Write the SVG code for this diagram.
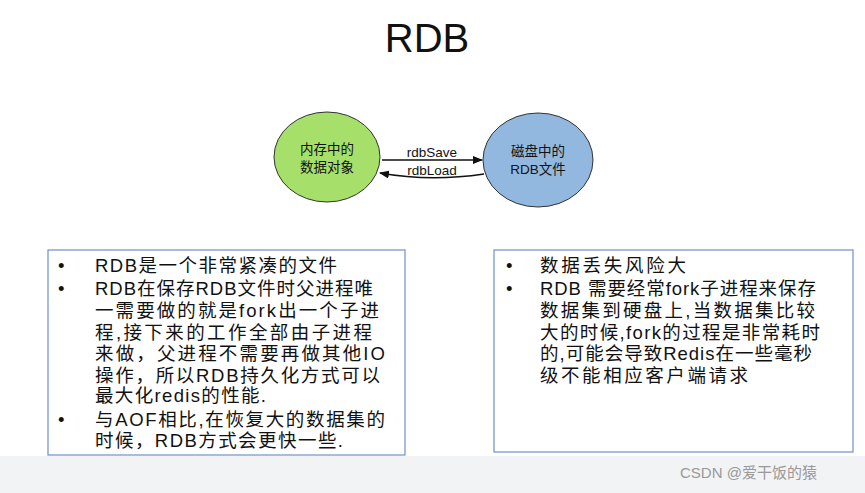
<svg xmlns="http://www.w3.org/2000/svg" width="865" height="493" viewBox="0 0 865 493">
<style>
text{font-family:"Liberation Sans","Noto Sans CJK SC",sans-serif;fill:#111}
.t{font-size:18.5px}
.n{font-size:13.5px}
.box{fill:#fff;stroke:#6f8fc8;stroke-width:1.2}
.c{stroke:#111;stroke-width:1.6;fill:none}
</style>
<defs><marker id="a" markerWidth="10" markerHeight="8" refX="9" refY="4" orient="auto" markerUnits="userSpaceOnUse"><path d="M0,0L10,4L0,8z" fill="#111"/></marker></defs>
<rect width="865" height="493" fill="#fff"/>
<rect y="456" width="865" height="37" fill="#f2f3f5"/>
<text x="427" y="52" font-size="40" text-anchor="middle">RDB</text>
<g id="mem"><ellipse cx="327" cy="157" rx="53" ry="45" fill="#a6e06b" stroke="#333"/><text class="n" x="327" y="154" text-anchor="middle">内存中的</text><text class="n" x="327" y="172" text-anchor="middle">数据对象</text></g>
<g id="disk"><ellipse cx="538" cy="160" rx="55" ry="47" fill="#92b8e0" stroke="#333"/><text class="n" x="538" y="156" text-anchor="middle">磁盘中的</text><text class="n" x="538" y="174" text-anchor="middle">RDB文件</text></g>
<g id="edges">
<path class="c" d="M382,160L482,160" marker-end="url(#a)"/>
<path class="c" d="M484,174Q430,182 380,173" marker-end="url(#a)"/>
<text class="n" x="432" y="157" text-anchor="middle">rdbSave</text>
<text class="n" x="432" y="175" text-anchor="middle">rdbLoad</text>
</g>
<g id="left"><rect class="box" x="48" y="250" width="357" height="205"/>
<g class="t">
<text x="58" y="272">•</text><text x="95" y="272" textLength="242">RDB是一个非常紧凑的文件</text>
<text x="58" y="295">•</text><text x="95" y="295" textLength="278">RDB在保存RDB文件时父进程唯</text>
<text x="95" y="317" textLength="284">一需要做的就是fork出一个子进</text>
<text x="95" y="339" textLength="277">程,接下来的工作全部由子进程</text>
<text x="95" y="360" textLength="290">来做，父进程不需要再做其他IO</text>
<text x="95" y="382" textLength="285">操作，所以RDB持久化方式可以</text>
<text x="95" y="402" textLength="171">最大化redis的性能.</text>
<text x="58" y="426">•</text><text x="95" y="426" textLength="290">与AOF相比,在恢复大的数据集的</text>
<text x="95" y="447" textLength="248">时候，RDB方式会更快一些.</text>
</g></g>
<g id="right"><rect class="box" x="494" y="250" width="359" height="202"/>
<g class="t">
<text x="506" y="272">•</text><text x="540" y="272" textLength="146">数据丢失风险大</text>
<text x="506" y="295">•</text><text x="540" y="295" textLength="276">RDB 需要经常fork子进程来保存</text>
<text x="540" y="317" textLength="275">数据集到硬盘上,当数据集比较</text>
<text x="540" y="339" textLength="280">大的时候,fork的过程是非常耗时</text>
<text x="540" y="360" textLength="272">的,可能会导致Redis在一些毫秒</text>
<text x="540" y="382" textLength="208">级不能相应客户端请求</text>
</g></g>
<text x="680" y="478" font-size="15" style="fill:#999">CSDN @爱干饭的猿</text>
</svg>
